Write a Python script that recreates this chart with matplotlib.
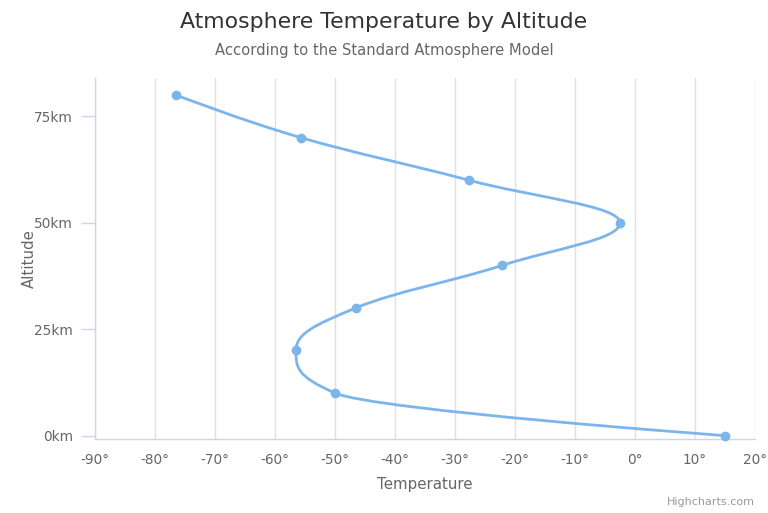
import numpy as np
import matplotlib.pyplot as plt
from matplotlib.path import Path
from matplotlib.patches import PathPatch

# data
altitude = [0, 10, 20, 30, 40, 50, 60, 70, 80]
temperature = [15, -50, -56.5, -46.5, -22.1, -2.5, -27.7, -55.7, -76.5]
alt_ticks = [0, 25, 50, 75]
temp_ticks = [-90, -80, -70, -60, -50, -40, -30, -20, -10, 0, 10, 20]

line_color = '#7cb5ec'


def spline_path(xs, ys, smoothing=1.5):
    # highcharts-style spline, xs along the series axis (altitude)
    n = len(xs)
    denom = smoothing + 1
    right = [None] * n
    verts = [(xs[0], ys[0])]
    codes = [Path.MOVETO]
    for i in range(1, n):
        px, py = xs[i], ys[i]
        lx, ly = xs[i - 1], ys[i - 1]
        lcx, lcy = px, py
        if i < n - 1:
            nx, ny = xs[i + 1], ys[i + 1]
            lcx = (smoothing * px + lx) / denom
            lcy = (smoothing * py + ly) / denom
            rcx = (smoothing * px + nx) / denom
            rcy = (smoothing * py + ny) / denom
            corr = 0
            if rcx != lcx:
                corr = (rcy - lcy) * (rcx - px) / (rcx - lcx) + py - rcy
            lcy += corr
            rcy += corr
            if lcy > ly and lcy > py:
                lcy = max(ly, py)
                rcy = 2 * py - lcy
            elif lcy < ly and lcy < py:
                lcy = min(ly, py)
                rcy = 2 * py - lcy
            if rcy > ny and rcy > py:
                rcy = max(ny, py)
                lcy = 2 * py - rcy
            elif rcy < ny and rcy < py:
                rcy = min(ny, py)
                lcy = 2 * py - rcy
            right[i] = (rcx, rcy)
        c1 = right[i - 1] if right[i - 1] is not None else (lx, ly)
        verts += [c1, (lcx, lcy), (px, py)]
        codes += [Path.CURVE4] * 3
    return verts, codes


fig = plt.figure(figsize=(7.68, 5.13), dpi=100)
ax = fig.add_axes([95 / 768, 1 - 439 / 513, 660 / 768, 361 / 513])

verts, codes = spline_path(altitude, temperature)
# swap to (temperature, altitude) for the inverted chart
verts = [(v[1], v[0]) for v in verts]
ax.add_patch(PathPatch(Path(verts, codes), fill=False, edgecolor=line_color, lw=2, zorder=3))
ax.plot(temperature, altitude, 'o', color=line_color, markersize=6, zorder=4, clip_on=False)

ax.set_xlim(-90, 20)
ax.set_ylim(-0.8, 84)

ax.set_xticks(temp_ticks)
ax.set_xticklabels([f'{t}°' for t in temp_ticks])
ax.set_yticks(alt_ticks)
ax.set_yticklabels([f'{a}km' for a in alt_ticks])

ax.grid(True, axis='x', color='#e0e0e0', lw=1)
ax.set_axisbelow(True)
for side in ['top', 'right']:
    ax.spines[side].set_visible(False)
for side in ['left', 'bottom']:
    ax.spines[side].set_color('#ccd6eb')
    ax.spines[side].set_linewidth(1)

ax.tick_params(axis='x', length=0, pad=10, labelsize=9.8, labelcolor='#666666')
ax.tick_params(axis='y', length=10, width=1, color='#ccd6eb', pad=6, labelsize=9.8, labelcolor='#666666')

ax.set_xlabel('Temperature', fontsize=10.8, color='#666666', labelpad=7)
ax.set_ylabel('Altitude', fontsize=10.8, color='#666666', labelpad=-2)

fig.text(0.5, 1 - 22 / 513, 'Atmosphere Temperature by Altitude', ha='center', va='center',
         fontsize=15.8, color='#333333')
fig.text(0.5, 1 - 50 / 513, 'According to the Standard Atmosphere Model', ha='center', va='center',
         fontsize=10.6, color='#666666')
fig.text(755 / 768, 1 - 502 / 513, 'Highcharts.com', ha='right', va='center',
         fontsize=8, color='#999999')

fig.savefig('out.png', dpi=100)
